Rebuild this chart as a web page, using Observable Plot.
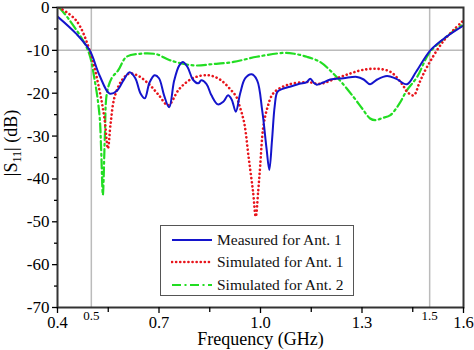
<!DOCTYPE html>
<html>
<head>
<meta charset="utf-8">
<script src="https://cdn.jsdelivr.net/npm/d3@7"></script>
<script src="https://cdn.jsdelivr.net/npm/@observablehq/plot@0.6"></script>
<style>
  body { margin: 0; background: white; }
  #wrap { position: relative; width: 474px; height: 350px; }
  #wrap svg text, #legend { font-family: "Liberation Serif", "Times New Roman", Times, "DejaVu Serif", serif !important; }
  #legend { position: absolute; left: 160px; top: 225px; width: 194px; height: 71px; border: 1px solid #555; background: white; font-size: 15.5px; color: #111; box-sizing: border-box; }
  .row { position: absolute; left: 0; height: 20px; display: flex; align-items: center; white-space: nowrap; }
  .row svg { margin-left: 10px; margin-right: 4px; }
</style>
</head>
<body>
<div id="wrap"></div>
<script>
// Frequency (GHz) / |S11| (dB) samples
const measuredAnt1 = [
  [0.40,-2.1],[0.455,-6.1],[0.495,-10],[0.524,-15.8],[0.554,-20.1],[0.575,-19.5],[0.595,-17],[0.613,-15.1],
  [0.63,-16.5],[0.645,-20],[0.658,-21.2],[0.672,-17.5],[0.687,-15.8],[0.70,-16.5],[0.715,-20.5],[0.730,-23.3],
  [0.745,-17],[0.760,-13.5],[0.771,-12.7],[0.785,-14],[0.80,-16.8],[0.816,-17.7],[0.825,-17.0],[0.840,-17.8],
  [0.855,-20.5],[0.874,-22.6],[0.890,-22],[0.904,-20.5],[0.915,-21.5],[0.927,-24.3],[0.940,-20],[0.955,-16.5],
  [0.974,-15.6],[0.990,-17],[1.005,-24],[1.018,-33],[1.026,-37.9],[1.034,-31],[1.042,-23],[1.050,-19.7],
  [1.065,-19],[1.087,-18.5],[1.115,-17.8],[1.137,-17.4],[1.147,-16.6],[1.158,-17.6],[1.166,-18],[1.185,-17.5],
  [1.206,-16.8],[1.245,-16.5],[1.285,-16.2],[1.305,-16.8],[1.324,-17.9],[1.345,-16.8],[1.374,-16],[1.40,-16.6],
  [1.433,-17.9],[1.46,-15],[1.502,-10],[1.55,-6.8],[1.60,-4.2]
];
const simulatedAnt1 = [
  [0.405,0],[0.455,-3],[0.495,-10],[0.524,-19.3],[0.539,-26],[0.549,-32.9],[0.557,-27],[0.569,-20.8],[0.59,-17],
  [0.613,-15.4],[0.64,-16],[0.673,-18.1],[0.70,-20.5],[0.727,-22.8],[0.76,-19],[0.80,-16.5],[0.845,-15.8],
  [0.88,-16.8],[0.91,-19],[0.929,-20.9],[0.939,-23.2],[0.952,-27],[0.965,-35],[0.978,-43],[0.986,-48.8],
  [0.993,-43],[0.999,-37],[1.008,-28],[1.020,-23.5],[1.038,-20],[1.078,-18.1],[1.137,-17.4],[1.176,-17.8],
  [1.225,-16.5],[1.265,-15.4],[1.30,-14.6],[1.344,-14.3],[1.384,-15],[1.418,-17.8],[1.435,-19.8],[1.453,-20.5],
  [1.47,-17.5],[1.492,-13.9],[1.542,-7.7],[1.60,-3]
];
const simulatedAnt2 = [
  [0.405,0],[0.436,-3],[0.49,-10],[0.51,-17],[0.524,-25],[0.529,-33],[0.534,-43.7],[0.540,-30],[0.546,-20],
  [0.56,-16.5],[0.579,-14.7],[0.604,-11.5],[0.643,-10.8],[0.692,-10.9],[0.732,-12.3],[0.801,-13.5],[0.86,-13.2],
  [0.92,-12.7],[0.989,-11.5],[1.068,-10.6],[1.10,-10.8],[1.137,-11.5],[1.176,-12.7],[1.206,-14.7],[1.24,-17.5],
  [1.275,-20.9],[1.30,-23.5],[1.324,-25.9],[1.339,-26.3],[1.36,-25.8],[1.384,-25.1],[1.41,-22.5],[1.433,-19.3],
  [1.463,-16.2],[1.50,-10.5],[1.55,-6.8],[1.60,-3.8]
];
const xMajorTicks = [0.4, 0.7, 1.0, 1.3, 1.6];
const xMinorTicks = [0.55, 0.85, 1.15, 1.45];
const xSmallLabels = [0.5, 1.5];
const yMajorTicks = [0, -10, -20, -30, -40, -50, -60, -70];
const yMinorTicks = [-5, -15, -25, -35, -45, -55, -65];
const refX = [0.5, 1.5];
const refY = [-10];
const seriesNames = ["Measured for Ant. 1", "Simulated for Ant. 1", "Simulated for Ant. 2"];
const seriesColors = ["#1414cc", "#e8141b", "#22dd22"];

const toRows = arr => arr.map(([f, s]) => ({f, s}));

const plot = Plot.plot({
  width: 474, height: 350,
  marginLeft: 57, marginRight: 11, marginTop: 7, marginBottom: 43,
  style: {fontSize: "17px", color: "black", background: "white"},
  x: {domain: [0.4, 1.6]},
  y: {domain: [-70, 0]},
  marks: [
    Plot.ruleX(refX, {stroke: "#bbb", strokeWidth: 1.5}),
    Plot.ruleY(refY, {stroke: "#bbb", strokeWidth: 1.5}),
    Plot.line(toRows(simulatedAnt2), {x: "f", y: "s", stroke: seriesColors[2], strokeWidth: 2.2, strokeDasharray: "9,3.5,2,3.5", curve: "catmull-rom", clip: true}),
    Plot.line(toRows(simulatedAnt1), {x: "f", y: "s", stroke: seriesColors[1], strokeWidth: 2.6, strokeDasharray: "0.1,4", strokeLinecap: "round", curve: "catmull-rom", clip: true}),
    Plot.line(toRows(measuredAnt1), {x: "f", y: "s", stroke: seriesColors[0], strokeWidth: 2, curve: "catmull-rom", clip: true}),
    Plot.frame({stroke: "#333", strokeWidth: 2}),
    Plot.axisX(xMajorTicks, {tickSize: 6, tickPadding: 3, tickFormat: d => d.toFixed(1), label: null, fontSize: 16.5, strokeWidth: 1.3}),
    Plot.axisX(xMinorTicks, {tickSize: 5, tickFormat: () => "", label: null, strokeWidth: 1.3}),
    Plot.axisY(yMajorTicks, {tickSize: 5, tickPadding: 3, tickFormat: d => String(d), label: null, fontSize: 17, strokeWidth: 1.3}),
    Plot.axisY(yMinorTicks, {tickSize: 3, tickFormat: () => "", label: null, strokeWidth: 1.3}),
    Plot.text(xSmallLabels, {x: d => d, text: d => d.toFixed(1), frameAnchor: "bottom", dy: 12, fontSize: 13}),
    Plot.text(["Frequency (GHz)"], {frameAnchor: "bottom", dy: 37, fontSize: 18})
  ]
});

// y axis title with subscript
const svg = d3.select(plot);
const yt = svg.append("text")
  .attr("transform", "translate(17,143) rotate(-90)")
  .attr("text-anchor", "middle")
  .attr("font-size", 18)
  .attr("fill", "black");
yt.append("tspan").text("|S");
yt.append("tspan").attr("font-size", 12).attr("dy", 4).text("11");
yt.append("tspan").attr("dy", -4).text("| (dB)");

const wrap = document.getElementById("wrap");
wrap.appendChild(plot);

// legend overlay
const legend = document.createElement("div");
legend.id = "legend";
const dashes = ["", "0.1,4", "9,3.5,2,3.5"];
const widths = [2.2, 2.6, 2.2];
seriesNames.forEach((name, i) => {
  const row = document.createElement("div");
  row.className = "row";
  row.style.top = (4 + i * 22.3) + "px";
  row.innerHTML = `<svg width="42" height="8"><line x1="1" y1="4" x2="41" y2="4" stroke="${seriesColors[i]}" stroke-width="${widths[i]}" ${dashes[i] ? `stroke-dasharray="${dashes[i]}"` : ""} stroke-linecap="${i === 1 ? "round" : "butt"}"/></svg><span>${name}</span>`;
  legend.appendChild(row);
});
wrap.appendChild(legend);
</script>
</body>
</html>
